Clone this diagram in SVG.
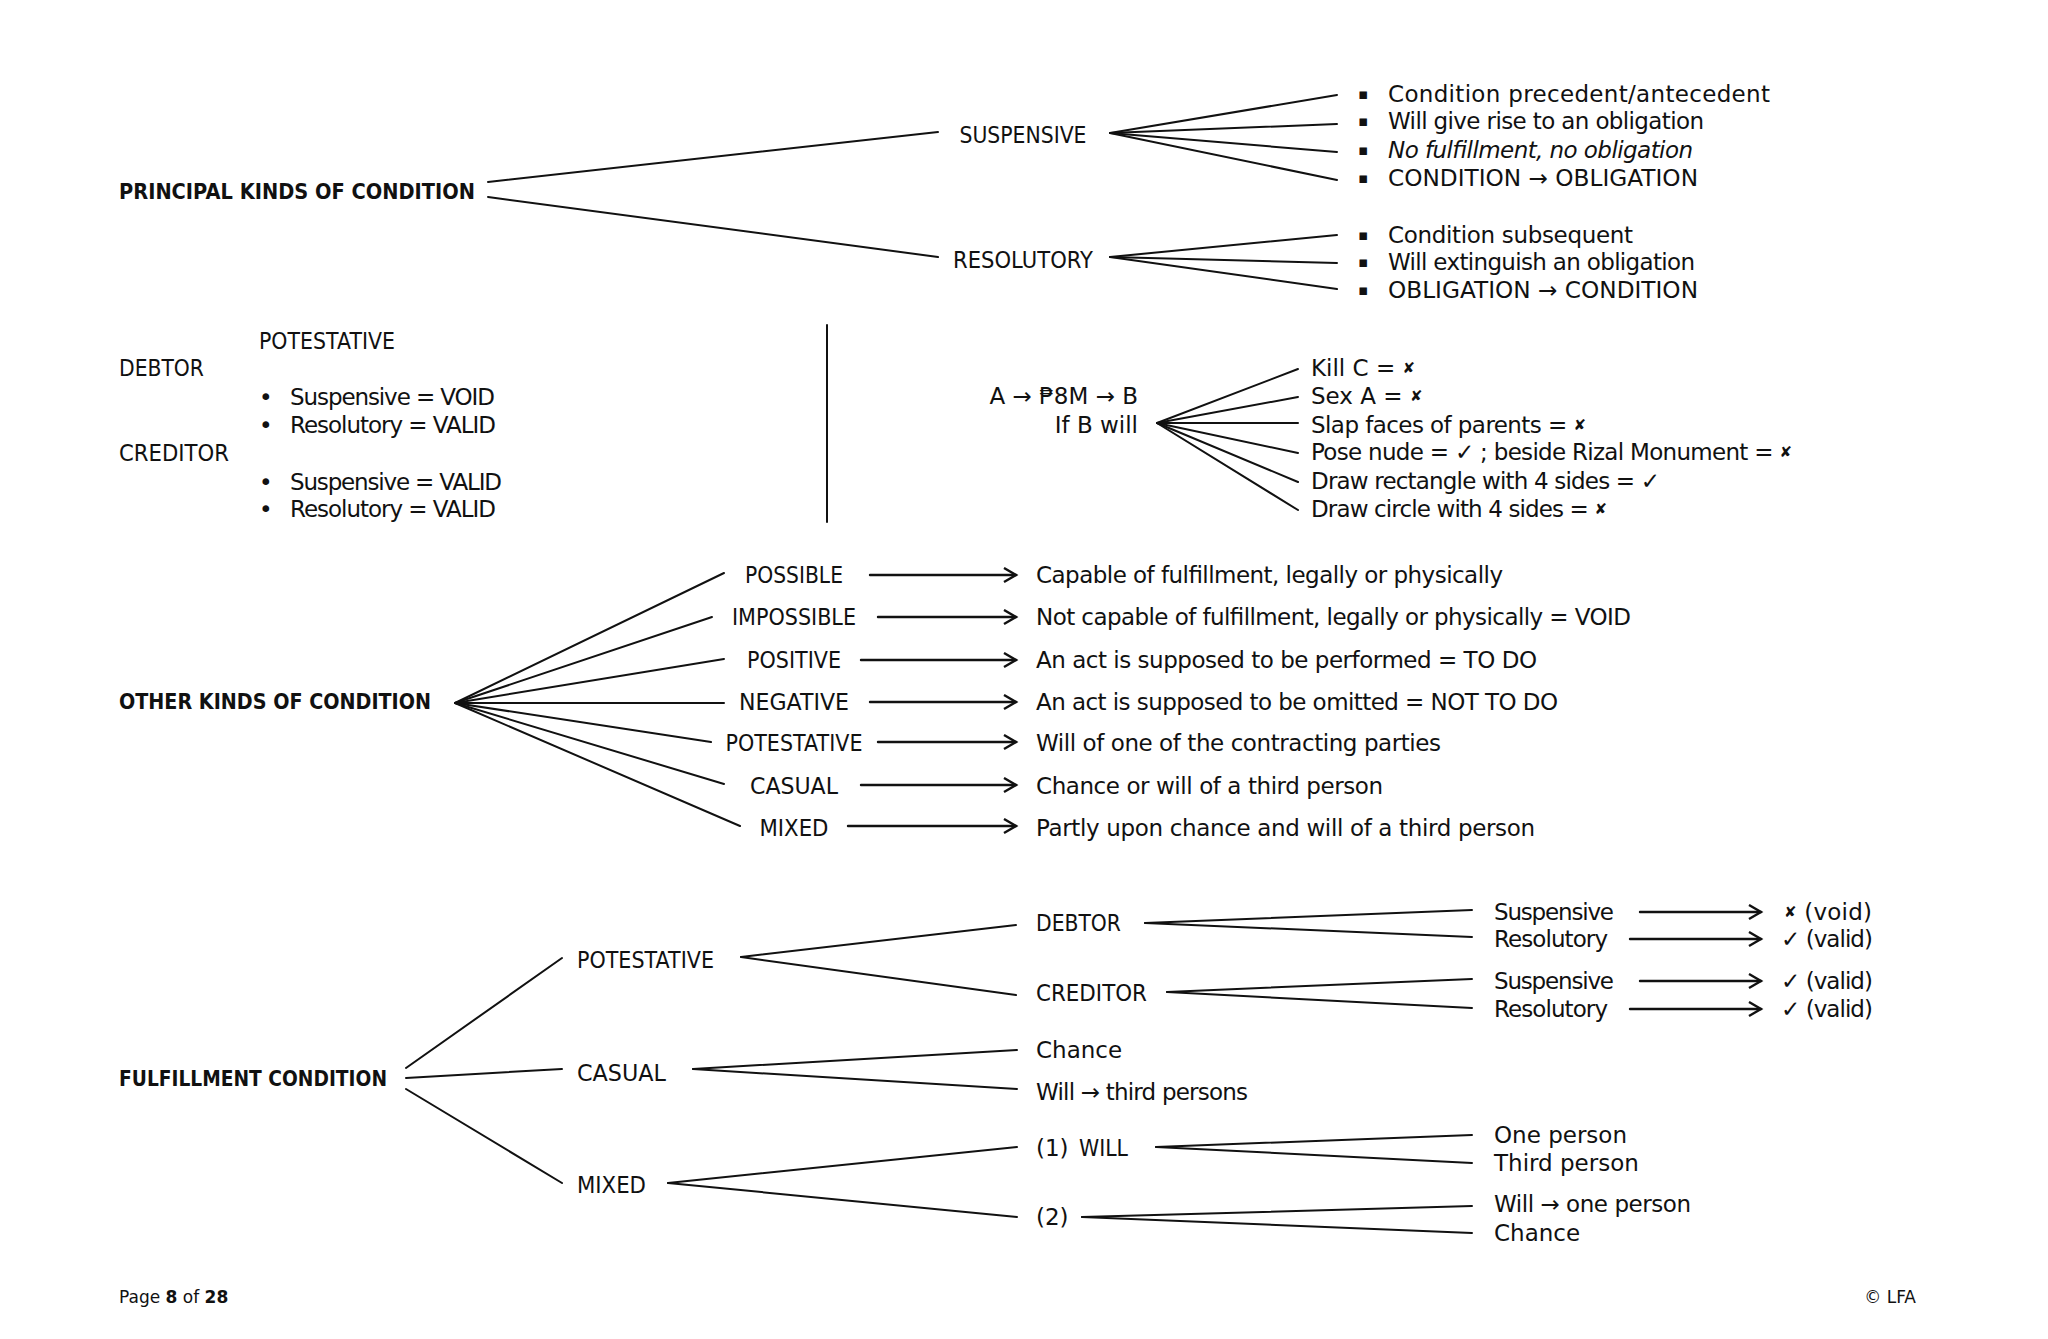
<svg xmlns="http://www.w3.org/2000/svg" width="2048" height="1339" viewBox="0 0 2048 1339">
<style>
text { font-family: "DejaVu Sans", "Noto Sans", sans-serif; font-size: 23px; fill: #111; dominant-baseline: central; }
.h { font-weight: bold; font-size: 22px; }
.mid { text-anchor: middle; }
.end { text-anchor: end; }
.it { font-style: italic; }
.sym { font-size: 15px; font-weight: bold; }
.sq { font-size: 15px; }
.foot { font-size: 17px; }
.foot .b { font-weight: bold; }
#connectors line { stroke: #111; stroke-width: 2; stroke-linecap: round; }
#connectors line.arr { stroke-width: 2.4; marker-end: url(#ah); }
</style>
<defs>
<marker id="ah" markerUnits="userSpaceOnUse" markerWidth="18" markerHeight="18" refX="13" refY="8" orient="auto">
<path d="M1,1 L13,8 L1,15" fill="none" stroke="#111" stroke-width="2.4"/>
</marker>
</defs>
<rect width="2048" height="1339" fill="#fff"/>

<g id="connectors">
<line x1="488" y1="182" x2="938" y2="132"/>
<line x1="488" y1="197" x2="938" y2="257"/>
<line x1="1110" y1="133" x2="1337" y2="95"/>
<line x1="1110" y1="133" x2="1337" y2="124"/>
<line x1="1110" y1="133" x2="1337" y2="152"/>
<line x1="1110" y1="133" x2="1337" y2="180"/>
<line x1="1110" y1="257" x2="1337" y2="235"/>
<line x1="1110" y1="257" x2="1337" y2="263"/>
<line x1="1110" y1="257" x2="1337" y2="289"/>
<line x1="827" y1="325" x2="827" y2="522"/>
<line x1="1157" y1="423" x2="1298" y2="369"/>
<line x1="1157" y1="423" x2="1298" y2="397"/>
<line x1="1157" y1="423" x2="1298" y2="423"/>
<line x1="1157" y1="423" x2="1298" y2="453"/>
<line x1="1157" y1="423" x2="1298" y2="482"/>
<line x1="1157" y1="423" x2="1298" y2="510"/>
<line x1="455" y1="703" x2="724" y2="573"/>
<line x1="455" y1="703" x2="712" y2="617"/>
<line x1="455" y1="703" x2="724" y2="659"/>
<line x1="455" y1="703" x2="724" y2="703"/>
<line x1="455" y1="703" x2="711" y2="742"/>
<line x1="455" y1="703" x2="724" y2="784"/>
<line x1="455" y1="703" x2="740" y2="826"/>
<line class="arr" x1="870" y1="575" x2="1016" y2="575"/>
<line class="arr" x1="878" y1="617" x2="1016" y2="617"/>
<line class="arr" x1="861" y1="660" x2="1016" y2="660"/>
<line class="arr" x1="870" y1="702" x2="1016" y2="702"/>
<line class="arr" x1="878" y1="742" x2="1016" y2="742"/>
<line class="arr" x1="861" y1="785" x2="1016" y2="785"/>
<line class="arr" x1="848" y1="826" x2="1016" y2="826"/>
<line x1="406" y1="1068" x2="562" y2="958"/>
<line x1="406" y1="1078" x2="562" y2="1069"/>
<line x1="406" y1="1089" x2="562" y2="1183"/>
<line x1="741" y1="957" x2="1016" y2="925"/>
<line x1="741" y1="957" x2="1016" y2="995"/>
<line x1="1145" y1="923" x2="1472" y2="910"/>
<line x1="1145" y1="923" x2="1472" y2="937"/>
<line x1="1167" y1="992" x2="1472" y2="979"/>
<line x1="1167" y1="992" x2="1472" y2="1008"/>
<line class="arr" x1="1640" y1="912" x2="1761" y2="912"/>
<line class="arr" x1="1630" y1="939" x2="1761" y2="939"/>
<line class="arr" x1="1640" y1="981" x2="1761" y2="981"/>
<line class="arr" x1="1630" y1="1009" x2="1761" y2="1009"/>
<line x1="693" y1="1069" x2="1017" y2="1050"/>
<line x1="693" y1="1069" x2="1017" y2="1089"/>
<line x1="668" y1="1183" x2="1017" y2="1147"/>
<line x1="668" y1="1183" x2="1017" y2="1217"/>
<line x1="1156" y1="1147" x2="1472" y2="1135"/>
<line x1="1156" y1="1147" x2="1472" y2="1163"/>
<line x1="1082" y1="1217" x2="1472" y2="1206"/>
<line x1="1082" y1="1217" x2="1472" y2="1233"/>
</g>

<!-- Section 1 -->
<g id="n-principal"><text class="h" x="119" y="191" textLength="356" lengthAdjust="spacingAndGlyphs">PRINCIPAL KINDS OF CONDITION</text></g>
<g id="n-suspensive"><text class="mid" x="1023" y="135" textLength="127" lengthAdjust="spacingAndGlyphs">SUSPENSIVE</text></g>
<g id="n-resolutory"><text class="mid" x="1023" y="260" textLength="140" lengthAdjust="spacingAndGlyphs">RESOLUTORY</text></g>
<g id="n-susp-items">
<text class="sq" x="1358" y="94">▪</text><text x="1388" y="94" textLength="382">Condition precedent/antecedent</text>
<text class="sq" x="1358" y="121">▪</text><text x="1388" y="121" textLength="316">Will give rise to an obligation</text>
<text class="sq" x="1358" y="150">▪</text><text class="it" x="1388" y="150" textLength="305">No fulfillment, no obligation</text>
<text class="sq" x="1358" y="178">▪</text><text x="1388" y="178" textLength="310" lengthAdjust="spacingAndGlyphs">CONDITION →  OBLIGATION</text>
</g>
<g id="n-res-items">
<text class="sq" x="1358" y="235">▪</text><text x="1388" y="235" textLength="245">Condition subsequent</text>
<text class="sq" x="1358" y="262">▪</text><text x="1388" y="262" textLength="307">Will extinguish an obligation</text>
<text class="sq" x="1358" y="290">▪</text><text x="1388" y="290" textLength="310" lengthAdjust="spacingAndGlyphs">OBLIGATION →  CONDITION</text>
</g>

<!-- Section 2 -->
<g id="n-potestative-notes">
<text x="259" y="341" textLength="136" lengthAdjust="spacingAndGlyphs">POTESTATIVE</text>
<text x="119" y="368" textLength="85" lengthAdjust="spacingAndGlyphs">DEBTOR</text>
<text x="259" y="397">•</text><text x="290" y="397" textLength="205">Suspensive = VOID</text>
<text x="259" y="425">•</text><text x="290" y="425" textLength="206">Resolutory = VALID</text>
<text x="119" y="453" textLength="110" lengthAdjust="spacingAndGlyphs">CREDITOR</text>
<text x="259" y="482">•</text><text x="290" y="482" textLength="212">Suspensive = VALID</text>
<text x="259" y="509">•</text><text x="290" y="509" textLength="206">Resolutory = VALID</text>
</g>
<g id="n-ifbwill">
<text class="end" x="1138" y="396">A → ₱8M → B</text>
<text class="end" x="1138" y="425">If B will</text>
</g>
<g id="n-examples">
<text x="1311" y="368">Kill C = <tspan class="sym">✘</tspan></text>
<text x="1311" y="396">Sex A = <tspan class="sym">✘</tspan></text>
<text x="1311" y="425" textLength="275">Slap faces of parents = <tspan class="sym">✘</tspan></text>
<text x="1311" y="452" textLength="481">Pose nude = ✓ ; beside Rizal Monument = <tspan class="sym">✘</tspan></text>
<text x="1311" y="481" textLength="349">Draw rectangle with 4 sides = ✓</text>
<text x="1311" y="509" textLength="296">Draw circle with 4 sides = <tspan class="sym">✘</tspan></text>
</g>

<!-- Section 3 -->
<g id="n-other"><text class="h" x="119" y="701" textLength="312" lengthAdjust="spacingAndGlyphs">OTHER KINDS OF CONDITION</text></g>
<g id="n-possible"><text class="mid" x="794" y="575" textLength="98" lengthAdjust="spacingAndGlyphs">POSSIBLE</text><text x="1036" y="575" textLength="467">Capable of fulfillment, legally or physically</text></g>
<g id="n-impossible"><text class="mid" x="794" y="617" textLength="124" lengthAdjust="spacingAndGlyphs">IMPOSSIBLE</text><text x="1036" y="617" textLength="595">Not capable of fulfillment, legally or physically = VOID</text></g>
<g id="n-positive"><text class="mid" x="794" y="660" textLength="94" lengthAdjust="spacingAndGlyphs">POSITIVE</text><text x="1036" y="660" textLength="501">An act is supposed to be performed = TO DO</text></g>
<g id="n-negative"><text class="mid" x="794" y="702" textLength="110" lengthAdjust="spacingAndGlyphs">NEGATIVE</text><text x="1036" y="702" textLength="522">An act is supposed to be omitted = NOT TO DO</text></g>
<g id="n-potestative"><text class="mid" x="794" y="743" textLength="137" lengthAdjust="spacingAndGlyphs">POTESTATIVE</text><text x="1036" y="743" textLength="405">Will of one of the contracting parties</text></g>
<g id="n-casual"><text class="mid" x="794" y="786" textLength="88" lengthAdjust="spacingAndGlyphs">CASUAL</text><text x="1036" y="786" textLength="347">Chance or will of a third person</text></g>
<g id="n-mixed"><text class="mid" x="794" y="828" textLength="69" lengthAdjust="spacingAndGlyphs">MIXED</text><text x="1036" y="828" textLength="499">Partly upon chance and will of a third person</text></g>

<!-- Section 4 -->
<g id="n-fulfillment"><text class="h" x="119" y="1078" textLength="268" lengthAdjust="spacingAndGlyphs">FULFILLMENT CONDITION</text></g>
<g id="n-f-potestative"><text x="577" y="960" textLength="137" lengthAdjust="spacingAndGlyphs">POTESTATIVE</text></g>
<g id="n-f-casual"><text x="577" y="1073" textLength="89" lengthAdjust="spacingAndGlyphs">CASUAL</text></g>
<g id="n-f-mixed"><text x="577" y="1185" textLength="69" lengthAdjust="spacingAndGlyphs">MIXED</text></g>
<g id="n-f-debtor"><text x="1036" y="923" textLength="85" lengthAdjust="spacingAndGlyphs">DEBTOR</text></g>
<g id="n-f-creditor"><text x="1036" y="993" textLength="111" lengthAdjust="spacingAndGlyphs">CREDITOR</text></g>
<g id="n-f-chance"><text x="1036" y="1050">Chance</text></g>
<g id="n-f-will-third"><text x="1036" y="1092" textLength="212">Will → third persons</text></g>
<g id="n-f-will1"><text x="1036" y="1148">(1)</text><text x="1079" y="1148" textLength="49" lengthAdjust="spacingAndGlyphs">WILL</text></g>
<g id="n-f-2"><text x="1036" y="1217">(2)</text></g>
<g id="n-d-susp"><text x="1494" y="912" textLength="120">Suspensive</text><text x="1784" y="912" textLength="88"><tspan class="sym">✘</tspan> (void)</text></g>
<g id="n-d-res"><text x="1494" y="939" textLength="114">Resolutory</text><text x="1781" y="939" textLength="92">✓ (valid)</text></g>
<g id="n-c-susp"><text x="1494" y="981" textLength="120">Suspensive</text><text x="1781" y="981" textLength="92">✓ (valid)</text></g>
<g id="n-c-res"><text x="1494" y="1009" textLength="114">Resolutory</text><text x="1781" y="1009" textLength="92">✓ (valid)</text></g>
<g id="n-one-person"><text x="1494" y="1135">One person</text></g>
<g id="n-third-person"><text x="1494" y="1163">Third person</text></g>
<g id="n-will-one"><text x="1494" y="1204" textLength="197">Will → one person</text></g>
<g id="n-chance2"><text x="1494" y="1233">Chance</text></g>

<!-- Footer -->
<g id="footer">
<text class="foot" x="119" y="1297">Page <tspan class="b">8</tspan> of <tspan class="b">28</tspan></text>
<text class="foot end" x="1916" y="1297">© LFA</text>
</g>
</svg>
